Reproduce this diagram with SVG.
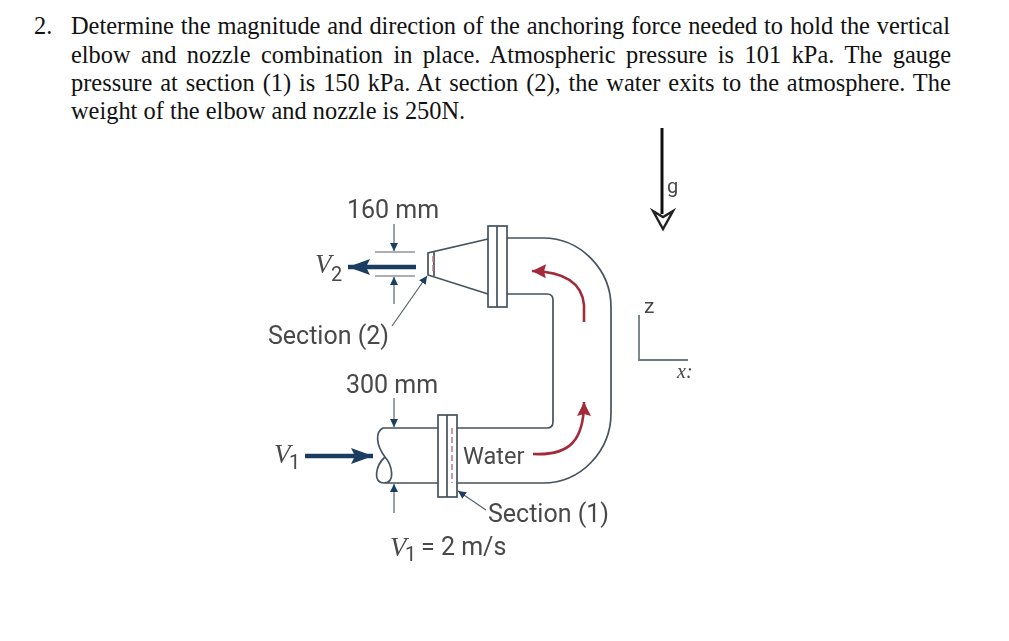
<svg xmlns="http://www.w3.org/2000/svg" width="1009" height="641" viewBox="0 0 1009 641">
<style>
.q{font:24.4px "Liberation Serif",serif;fill:#111}
.l{font:25px "Roboto","Liberation Sans",sans-serif;fill:#484848}
.v{font:italic 27px "Liberation Serif",serif;fill:#484848}
.s{font:20px "Roboto","Liberation Sans",sans-serif;fill:#484848}
.p{fill:none;stroke:#46525e;stroke-width:1.7}
.d{fill:none;stroke:#56616c;stroke-width:1.2}
.b{fill:none;stroke:#1d3c62;stroke-width:4.4}
.r{fill:none;stroke:#a32a3a;stroke-width:2.6}
.m{fill:none;stroke:#c77f8a;stroke-width:1.6;stroke-dasharray:6 3}
</style>
<defs>
<marker id="da" markerUnits="userSpaceOnUse" markerWidth="9" markerHeight="12" refX="8" refY="4" orient="auto"><path d="M0 0L8 4L0 8Z" fill="#1d3c62"/></marker>
<marker id="ba" markerUnits="userSpaceOnUse" markerWidth="24" markerHeight="16" refX="22" refY="8" orient="auto"><path d="M0 0L22 8L0 16L4 8Z" fill="#1d3c62"/></marker>
<marker id="ra" markerUnits="userSpaceOnUse" markerWidth="16" markerHeight="14" refX="14" refY="7" orient="auto"><path d="M0 0L14 7L0 14L2 7Z" fill="#a32a3a"/></marker>
<filter id="soft" x="0" y="0" width="1" height="1"><feGaussianBlur stdDeviation="0.45"/></filter>
</defs>
<rect width="1009" height="641" fill="#fff"/>
<g id="question">
<text class="q" x="34" y="34">2.</text>
<text class="q" x="71" y="34" word-spacing="0.77">Determine the magnitude and direction of the anchoring force needed to hold the vertical</text>
<text class="q" x="71" y="63" word-spacing="4.4">elbow and nozzle combination in place. Atmospheric pressure is 101 kPa. The gauge</text>
<text class="q" x="71" y="91" word-spacing="1.8">pressure at section (1) is 150 kPa. At section (2), the water exits to the atmosphere. The</text>
<text class="q" x="71" y="119">weight of the elbow and nozzle is 250N.</text>
</g>
<g filter="url(#soft)">
<g id="elbow">
<path class="p" d="M507 238H543C581 238 611 270 611 307V413C611 451 581 483 543 483H457"/>
<path class="p" d="M507 294H547Q553 294 553 300V422Q553 428 547 428H457"/>
<path class="p" d="M438 428H383C375 432 376 445 385 457C392 465 396 483 384 483C372 483 376 465 385 457M384 483H438"/>
</g>
<g id="flange-upper"><rect class="p" x="488" y="226" width="19" height="81" fill="#fff"/><path class="p" d="M497 226V307"/></g>
<g id="flange-lower"><rect class="p" x="438" y="415" width="19" height="82" fill="#fff"/><path class="p" d="M447 415V497"/><path class="m" d="M452 428V483"/></g>
<g id="nozzle">
<path class="p" d="M488 239L428 253V275L488 294"/>
<path class="p" d="M434 252V276"/>
<path class="m" d="M433 256V274" stroke-dasharray="3 3"/>
</g>
<g id="connectors">
<path class="b" d="M416 267H348" marker-end="url(#ba)"/>
<path class="d" d="M375 252H415M375 276H415"/>
<path class="d" d="M394 224V251" marker-end="url(#da)"/>
<path class="d" d="M394 304V277" marker-end="url(#da)"/>
<path class="d" d="M392 326L427 276" marker-end="url(#da)"/>
<path class="r" d="M584 322V305Q581 272 532 271" marker-end="url(#ra)"/>
<path class="r" d="M533 454C570 456 584 440 584 402" marker-end="url(#ra)"/>
<path class="b" d="M305 456H373" marker-end="url(#ba)"/>
<path class="d" d="M394 398V427" marker-end="url(#da)"/>
<path class="d" d="M394 513V484" marker-end="url(#da)"/>
<path class="d" d="M486 510L458 491" marker-end="url(#da)"/>
<path d="M662 128V214" fill="none" stroke="#111" stroke-width="3"/>
<path d="M653 211L663 229L673 211L663 217Z" fill="#fff" stroke="#222" stroke-width="2.4"/>
<path d="M639 315V360H688" fill="none" stroke="#6d7c80" stroke-width="1.8"/>
</g>
<g id="labels">
<text class="l" x="347" y="218">160 mm</text>
<text class="v" x="315" y="273">V</text><text class="s" x="331" y="281">2</text>
<text class="l" x="268" y="344">Section (2)</text>
<text class="l" x="346" y="393">300 mm</text>
<text class="v" x="274" y="463">V</text><text class="s" x="289" y="469">1</text>
<text class="l" x="463" y="464" style="font-size:23.5px">Water</text>
<text class="l" x="488" y="522">Section (1)</text>
<text class="v" x="390" y="556">V</text><text class="s" x="405" y="561">1</text><text class="l" x="421" y="555">= 2 m/s</text>
<text class="l" x="667" y="193" style="font-size:20px">g</text>
<text class="l" x="644" y="313" style="font-size:21px">z</text>
<text class="v" x="677" y="378" style="font-size:20px">x:</text>
</g>
</g>
</svg>
